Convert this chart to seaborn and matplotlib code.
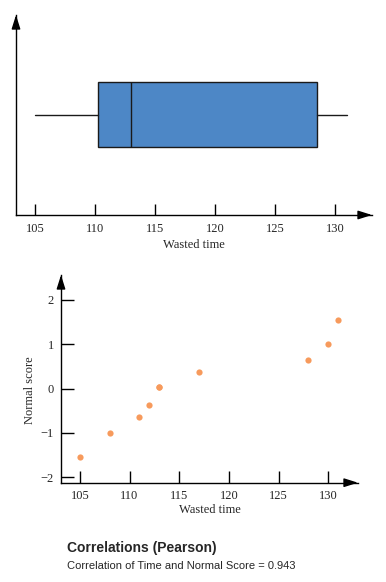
import numpy as np
import pandas as pd
import matplotlib
matplotlib.use("Agg")
import matplotlib.pyplot as plt
import seaborn as sns

# Data
wasted_time = [105, 108, 111, 112, 113, 113, 117, 128, 130, 131]
normal_score = [-1.55, -1.00, -0.65, -0.37, 0.03, 0.03, 0.38, 0.65, 1.00, 1.55]
x_ticks = [105, 110, 115, 120, 125, 130]
y_ticks = [-2, -1, 0, 1, 2]
x_label = "Wasted time"
y_label = "Normal score"
title_text = "Correlations (Pearson)"
corr_text = "Correlation of Time and Normal Score = 0.943"

sns.set_theme(style="white")
plt.rcParams['font.family'] = ['Liberation Serif', 'DejaVu Serif']

W, H = 386, 582
fig = plt.figure(figsize=(W / 100, H / 100), dpi=100)

def ax_rect(l, t, r, b):
    return [l / W, 1 - b / H, (r - l) / W, (b - t) / H]

BLUE = "#4d87c6"
ORANGE = "#f79a5c"
TICK_FS = 9
LABEL_FS = 9

def style_axes(ax):
    for s in ["top", "right"]:
        ax.spines[s].set_visible(False)
    for s in ["left", "bottom"]:
        ax.spines[s].set_color("black")
        ax.spines[s].set_linewidth(1.0)
    ax.annotate('', xy=(1.0, 0), xytext=(0.97, 0), xycoords='axes fraction',
                arrowprops=dict(arrowstyle='-|>,head_length=0.7,head_width=0.22',
                                color='black', lw=1.0, shrinkA=0, shrinkB=0))
    ax.annotate('', xy=(0, 1.0), xytext=(0, 0.97), xycoords='axes fraction',
                arrowprops=dict(arrowstyle='-|>,head_length=0.7,head_width=0.22',
                                color='black', lw=1.0, shrinkA=0, shrinkB=0))

# ---- Boxplot (Minitab-style quartiles) ----
ax1 = fig.add_axes(ax_rect(16, 15, 372, 215))
d = np.sort(np.array(wasted_time, dtype=float))
n = len(d)
def mq(p):
    pos = p * (n + 1) - 1
    lo = int(np.floor(pos)); fr = pos - lo
    return d[lo] + fr * (d[lo + 1] - d[lo])
stats = [dict(med=np.median(d), q1=mq(0.25), q3=mq(0.75),
              whislo=d.min(), whishi=d.max(), fliers=[])]
ax1.bxp(stats, positions=[0], widths=[1.0], vert=False, patch_artist=True,
        showcaps=False,
        boxprops=dict(facecolor=BLUE, edgecolor="#1a1a1a", linewidth=1.0),
        medianprops=dict(color="#1a1a1a", linewidth=1.0),
        whiskerprops=dict(color="#1a1a1a", linewidth=1.0))
ax1.set_xlim(103.4, 133.1)
ax1.set_ylim(-1.546, 1.531)
ax1.set_yticks([])
ax1.set_xticks(x_ticks)
ax1.set_xticklabels([str(t) for t in x_ticks])
ax1.tick_params(axis='x', direction='in', length=8, width=1.0, color='black',
                labelsize=TICK_FS, pad=6, bottom=True)
ax1.set_xlabel(x_label, fontsize=LABEL_FS, labelpad=3)
style_axes(ax1)

# ---- Scatter (normal probability) ----
ax2 = fig.add_axes(ax_rect(61, 275, 358, 482.7))
df = pd.DataFrame({"time": wasted_time, "score": normal_score})
sns.scatterplot(data=df, x="time", y="score", ax=ax2, color=ORANGE, s=20,
                marker="o", edgecolor=ORANGE, linewidth=0)
ax2.set_xlim(103.1, 133.0)
ax2.set_ylim(-2.12, 2.56)
ax2.set_xticks(x_ticks)
ax2.set_yticks(y_ticks)
ax2.set_xticklabels([str(t) for t in x_ticks])
ax2.set_yticklabels([("\u2212" + str(-t)) if t < 0 else str(t) for t in y_ticks])
ax2.tick_params(axis='x', direction='in', length=9, width=1.0, color='black',
                labelsize=TICK_FS, pad=5, bottom=True)
ax2.tick_params(axis='y', direction='in', length=9, width=1.0, color='black',
                labelsize=TICK_FS, pad=5, left=True)
ax2.set_xlabel(x_label, fontsize=LABEL_FS, labelpad=2)
ax2.set_ylabel(y_label, fontsize=LABEL_FS)
ax2.yaxis.set_label_coords(-0.084, 0.446)
style_axes(ax2)

# ---- Text ----
fig.text(67 / W, 1 - 552 / H, title_text, fontsize=10, fontweight='bold',
         family=['Liberation Sans', 'DejaVu Sans'], va='baseline', ha='left')
fig.text(67 / W, 1 - 569 / H, corr_text, fontsize=8,
         family=['Liberation Sans Narrow', 'Liberation Sans', 'DejaVu Sans'],
         va='baseline', ha='left')

fig.savefig("out.png", dpi=100, facecolor="white")
